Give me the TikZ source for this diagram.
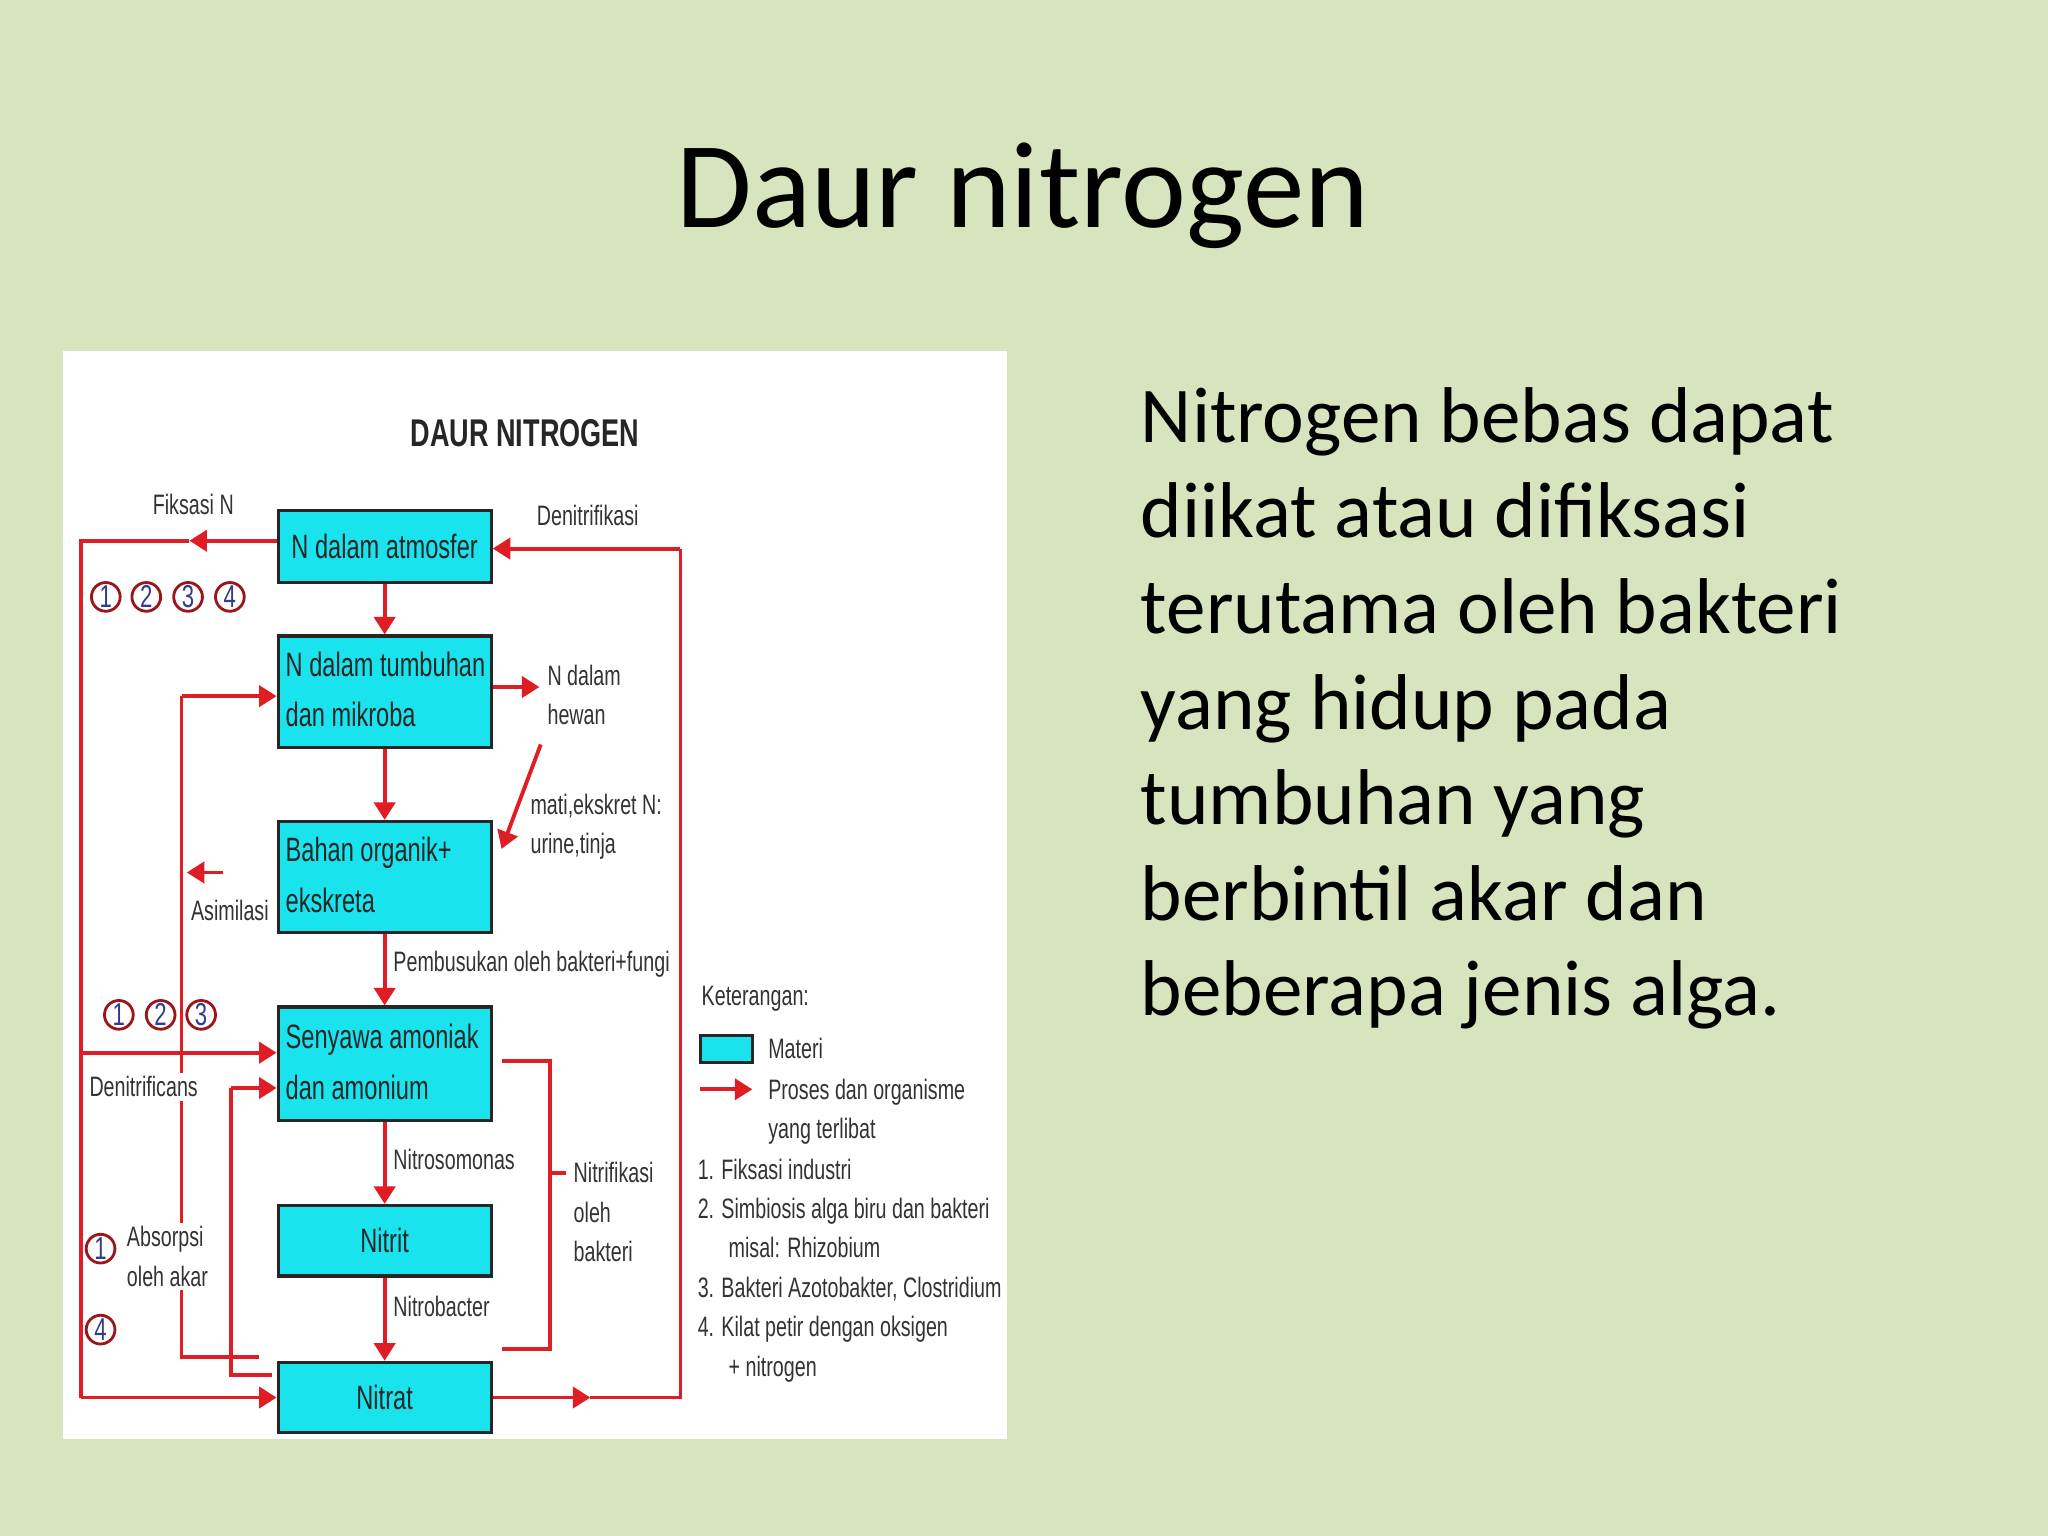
\documentclass[tikz,border=0pt]{standalone}
\usepackage{fontspec}
\setmainfont{Carlito}
\newfontfamily\dg[FakeStretch=0.7]{Liberation Sans}
\usetikzlibrary{arrows.meta}
\definecolor{slide}{RGB}{216,228,189}
\definecolor{cy}{RGB}{25,228,238}
\definecolor{rd}{RGB}{222,30,36}
\definecolor{cn}{RGB}{50,60,140}
\def\uu{0.01306cm}
\newcommand\twol[2]{\makebox[1.98cm][l]{\renewcommand\arraystretch{1.15}\begin{tabular}{@{}l@{}}#1\\#2\end{tabular}}}
\tikzset{
 box/.style={draw=black!85,line width=0.9pt,fill=cy,minimum width=163*\uu,inner sep=0pt,font=\dg\fontsize{9.6}{12.5}\selectfont,text=black!85},
 arr/.style={draw=rd,line width=1.1pt,-{Triangle[length=5pt,width=6pt]}},
 ln/.style={draw=rd,line width=1.1pt},
 lab/.style={font=\dg\fontsize{8}{11.2}\selectfont,text=black!80,inner sep=1pt,align=left},
 circ/.style={circle,draw=rd!70!black,line width=0.8pt,inner sep=0pt,minimum size=22*\uu,font=\dg\fontsize{9}{9}\selectfont,text=cn},
}
\begin{document}
\begin{tikzpicture}[x=\uu,y=-\uu]
\fill[slide] (0,0) rectangle (1568,1176);
\fill[white] (48,269) rectangle (771,1102);
\node[font=\fontsize{35}{40}\selectfont] (title) at (783,150) {Daur nitrogen};
\node[anchor=north west,align=left,font=\fontsize{22.5}{27.2}\selectfont,inner sep=0pt] (txt) at (873,296) {Nitrogen bebas dapat\\diikat atau difiksasi\\terutama oleh bakteri\\yang hidup pada\\tumbuhan yang\\berbintil akar dan\\beberapa jenis alga.};
\node[font=\dg\bfseries\fontsize{11}{13}\selectfont,text=black!85] (dn) at (402,332) {DAUR NITROGEN};
% boxes
\node[box,minimum height=55*\uu] (atm) at (294.5,418.5) {N dalam atmosfer};
\node[box,minimum height=85*\uu] (tum) at (294.5,529.5) {\twol{N dalam tumbuhan}{dan mikroba}};
\node[box,minimum height=85*\uu] (bah) at (294.5,671.5) {\twol{Bahan organik+}{ekskreta}};
\node[box,minimum height=87*\uu] (sen) at (294.5,814.5) {\twol{Senyawa amoniak}{dan amonium}};
\node[box,minimum height=54*\uu] (nit) at (294.5,950) {Nitrit};
\node[box,minimum height=54*\uu] (nat) at (294.5,1070) {Nitrat};
% vertical flow
\draw[arr] (atm) -- (tum);
\draw[arr] (tum) -- (bah);
\draw[arr] (bah) -- (sen);
\draw[arr] (sen) -- (nit);
\draw[arr] (nit) -- (nat);
\node[lab,anchor=west] (pem) at (298,738) {Pembusukan oleh bakteri+fungi};
\node[lab,anchor=west] (nso) at (298,888) {Nitrosomonas};
\node[lab,anchor=west] (nba) at (298,1000) {Nitrobacter};
% fiksasi loop
\coordinate (f1) at (145,414);
\coordinate (f2) at (62,414);
\coordinate (f3) at (62,1070);
\coordinate (f4) at (62,806);
\draw[arr] (atm.west|-f1) -- (f1);
\draw[ln] (f1) -- (f2) -- (f3);
\draw[arr] (f3) -- (nat.west|-f3);
\draw[arr] (f4) -- (sen.west|-f4);
\node[lab] (fik) at (148,386) {Fiksasi N};
\foreach \i/\xx in {1/81,2/112,3/144,4/176} \node[circ] (ca\i) at (\xx,457) {\i};
% absorpsi line (x=139)
\coordinate (g1) at (139,533);
\coordinate (g2) at (139,1039);
\coordinate (g3) at (198,1039);
\draw[arr] (g1) -- (tum.west|-g1);
\draw[ln] (g1) -- (g2) -- (g3);
% third line (x=177)
\coordinate (h1) at (177,833);
\coordinate (h2) at (177,1053);
\coordinate (h3) at (208,1053);
\draw[arr] (h1) -- (sen.west|-h1);
\draw[ln] (h1) -- (h2) -- (h3);
\foreach \i/\xx in {1/91,2/123,3/154} \node[circ] (cb\i) at (\xx,777) {\i};
\node[lab,fill=white] (den) at (110,832) {Denitrificans};
\node[circ] (cc1) at (77,956) {1};
\node[circ] (cc4) at (77,1018) {4};
\node[lab,fill=white,anchor=west] (abs) at (94,962) {Absorpsi\\oleh akar};
% asimilasi
\coordinate (a1) at (171,668);
\coordinate (a2) at (143,668);
\draw[arr] (a1) -- (a2);
\node[lab] (asi) at (176,697) {Asimilasi};
% hewan
\coordinate (hw) at (413,526);
\draw[arr] (tum.east|-hw) -- (hw);
\node[lab,anchor=west] (hew) at (416,532) {N dalam\\hewan};
\coordinate (d1) at (414,570);
\coordinate (d2) at (384,650);
\draw[arr] (d1) -- (d2);
\node[lab,anchor=west] (mat) at (403,633) {mati,ekskret N:\\urine,tinja};
% denitrifikasi loop
\coordinate (r1) at (452,1070);
\coordinate (r2) at (521,1070);
\coordinate (r3) at (521,420);
\draw[arr] (nat.east|-r1) -- (r1);
\draw[ln] (r1) -- (r2) -- (r3);
\draw[arr] (r3) -- (atm.east|-r3);
\node[lab] (dnf) at (450,395) {Denitrifikasi};
% nitrifikasi bracket
\coordinate (n1) at (384,812);
\coordinate (n2) at (421,812);
\coordinate (n3) at (421,1033);
\coordinate (n4) at (384,1033);
\coordinate (n5) at (421,898);
\coordinate (n6) at (433,898);
\draw[ln] (n1) -- (n2) -- (n3) -- (n4);
\draw[ln] (n5) -- (n6);
\node[lab,anchor=west] (nfk) at (436,928) {Nitrifikasi\\oleh\\bakteri};
% legend
\node[lab,anchor=west] (ket) at (534,765) {Keterangan:};
\node[box,minimum width=40*\uu,minimum height=21*\uu] (lgb) at (556,803) {};
\node[lab,anchor=west] (mtr) at (585,803) {Materi};
\coordinate (l1) at (536,834);
\coordinate (l2) at (576,834);
\draw[arr] (l1) -- (l2);
\node[lab,anchor=north west] (pro) at (585,823) {Proses dan organisme\\yang terlibat};
\node[lab,anchor=north west] (lst) at (531,884) {1. Fiksasi industri\\2. Simbiosis alga biru dan bakteri\\\hspace*{1.1em}misal: Rhizobium\\3. Bakteri Azotobakter, Clostridium\\4. Kilat petir dengan oksigen\\\hspace*{1.1em}+ nitrogen};
\end{tikzpicture}
\end{document}
